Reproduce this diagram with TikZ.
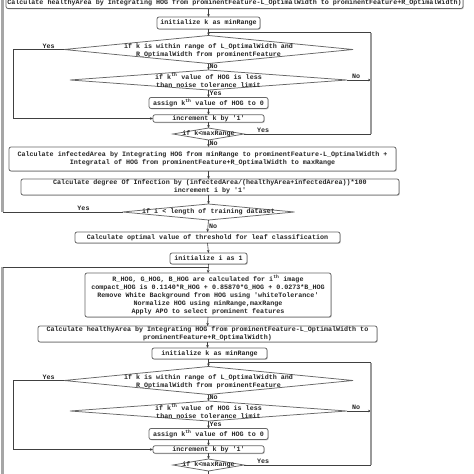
\documentclass[tikz,border=0pt]{standalone}
\usepackage{fontspec}
\setmonofont{Liberation Mono}
\usetikzlibrary{shapes.geometric,arrows.meta,shadows}
\newcommand\dtxt[2][-1.6pt]{\raisebox{#1}[0pt][0pt]{\makebox[0pt]{\fontsize{6.7}{7.6}\selectfont\begin{tabular}{@{}c@{}}#2\end{tabular}}}}
\begin{document}
\begin{tikzpicture}[x=1pt,y=-1pt,
 every node/.style={font=\ttfamily\bfseries\fontsize{6.7}{8.2}\selectfont, text=black!85},
 box/.style={draw=black!60, line width=0.75pt, rounded corners=2pt, fill=white, inner sep=0pt, outer sep=0pt, align=center,
   drop shadow={shadow xshift=0.8pt, shadow yshift=-0.8pt, fill=black!25, opacity=0.8}},
 dia/.style={shape=diamond, draw=black!60, line width=0.75pt, fill=white, inner sep=0pt, outer sep=0pt},
 arr/.style={draw=black!75, line width=0.6pt, -{Stealth[length=3pt,width=2.6pt]}},
 ln/.style={draw=black!75, line width=0.6pt},
 rline/.style={draw=black!40, line width=1.3pt},
 gline/.style={draw=black!35, line width=2.6pt},
 lbl/.style={inner sep=0.8pt}]
\useasboundingbox (0,0) rectangle (474,474);
\fill[white] (0,0) rectangle (474,474);
\clip (0,0) rectangle (474,474);

\coordinate (LA) at (13,0);
\coordinate (RA) at (371,0);
\coordinate (LG) at (2.5,0);
\coordinate (J1) at (208.5,32.5);
\coordinate (J2) at (208.5,267);
\coordinate (J3) at (208.5,362.5);
\coordinate (TopE) at (2.5,-8);
\coordinate (BotE) at (2.5,482);
\coordinate (BotM) at (208.5,482);

% ---- first part
\node[box, minimum width=457pt, minimum height=12pt] (T0) at (234.5,2.5) {Calculate healthyArea by Integrating HOG from prominentFeature-L\_OptimalWidth to prominentFeature+R\_OptimalWidth)};
\node[box, minimum width=103pt, minimum height=12pt] (K1) at (208.5,23) {initialize k as minRange};
\node[dia, minimum width=289pt, minimum height=28pt] (D1) at (208.5,49.5) {\dtxt[-3.2pt]{if k is within range of L\_OptimalWidth and\\R\_OptimalWidth from prominentFeature}};
\node[dia, minimum width=277pt, minimum height=20pt] (D2) at (208.5,80) {\dtxt[-3.4pt]{if k\textsuperscript{th} value of HOG is less\\than noise tolerance limit}};
\node[box, minimum width=119pt, minimum height=11pt] (A1) at (208.5,103) {assign k\textsuperscript{th} value of HOG to 0};
\node[box, minimum width=111pt, minimum height=7.5pt] (I1) at (208.5,118.5) {increment k by '1'};
\node[dia, minimum width=71pt, minimum height=12pt] (D3) at (208.5,134) {\dtxt[-2pt]{if k<maxRange}};
\node[box, minimum width=387pt, minimum height=24pt] (INF) at (202.5,159) {Calculate infectedArea by Integrating HOG from minRange to prominentFeature-L\_OptimalWidth +\\Integratal of HOG from prominentFeature+R\_OptimalWidth to maxRange};
\node[box, minimum width=378pt, minimum height=16pt] (DEG) at (210,187) {Calculate degree Of Infection by (infectedArea/(healthyArea+infectedArea))*100\\increment i by '1'};
\node[dia, minimum width=172pt, minimum height=16pt] (D4) at (208.5,212) {\dtxt[-2pt]{if i < length of training dataset}};
\node[box, minimum width=265pt, minimum height=11pt] (OPT) at (207.5,237.5) {Calculate optimal value of threshold for leaf classification};
\node[box, minimum width=77pt, minimum height=11pt] (INI) at (208.5,258.5) {initialize i as 1};
\node[box, minimum width=246pt, minimum height=44pt] (BIG) at (208,295) {R\_HOG, G\_HOG, B\_HOG are calculated for i\textsuperscript{th} image\\compact\_HOG is 0.1140*R\_HOG + 0.85870*G\_HOG + 0.0273*B\_HOG\\Remove White Background from HOG using 'whiteTolerance'\\Normalize HOG using minRange,maxRange\\Apply APO to select prominent features};
\node[box, minimum width=339pt, minimum height=16pt] (H2) at (207.5,334) {Calculate healthyArea by Integrating HOG from prominentFeature-L\_OptimalWidth to\\prominentFeature+R\_OptimalWidth)};
\node[box, minimum width=115pt, minimum height=11pt] (K2) at (209.5,353.5) {initialize k as minRange};
\node[dia, minimum width=289pt, minimum height=28pt] (D1b) at (208.5,380.5) {\dtxt[-3.2pt]{if k is within range of L\_OptimalWidth and\\R\_OptimalWidth from prominentFeature}};
\node[dia, minimum width=277pt, minimum height=20pt] (D2b) at (208.5,411) {\dtxt[-3.4pt]{if k\textsuperscript{th} value of HOG is less\\than noise tolerance limit}};
\node[box, minimum width=119pt, minimum height=11pt] (A1b) at (208.5,434) {assign k\textsuperscript{th} value of HOG to 0};
\node[box, minimum width=111pt, minimum height=7.5pt] (I1b) at (208.5,449.5) {increment k by '1'};
\node[dia, minimum width=71pt, minimum height=12pt] (D3b) at (208.5,465) {\dtxt[-2pt]{if k<maxRange}};

% ---- connectors, first loop
\draw[arr] (K1.north |- T0.south) -- (K1.north);
\draw[arr] (K1.south) -- (D1.north);
\draw[arr] (D1.west) -- node[lbl,above,pos=0.3]{Yes} (D1.west -| LA) |- (I1.west);
\draw[arr] (D1.south) -- node[lbl,right]{No} (D2.north);
\draw[arr] (D2.east) -- node[lbl,above,pos=0.38]{No} (D2.east -| RA);
\draw[arr] (D2.south) -- node[lbl,right]{Yes} (A1.north);
\draw[arr] (A1.south) -- (I1.north);
\draw[arr] (I1.south) -- (D3.north);
\draw[ln] (D3.east) -- node[lbl,above,pos=0.15]{Yes} (D3.east -| RA);
\draw[rline] (D3.east -| RA) -- (RA |- J1);
\draw[ln] (RA |- J1) -- (J1);
\draw[arr] (D3.south) -- node[lbl,right]{No} (D3.south |- INF.north);
\draw[arr] (INF.south -| K1) -- (DEG.north -| K1);
\draw[arr] (DEG.south -| K1) -- (D4.north);
\draw[ln] (D4.west) -- node[lbl,above,pos=0.325]{Yes} (D4.west -| LG);
\draw[gline] (D4.west -| LG) -- (TopE);
\draw[arr] (D4.south) -- node[lbl,right]{No} (OPT.north);
\draw[arr] (OPT.south) -- (INI.north);
\draw[arr] (INI.south) -- (BIG.north);
\draw[gline] (BotE) -- (LG |- J2);
\draw[ln] (LG |- J2) -- (J2);
\draw[arr] (BIG.south) -- (H2.north);
\draw[arr] (H2.south) -- (K2.north -| H2.south);
\draw[arr] (K2.south -| D1b.north) -- (D1b.north);

% ---- second loop
\draw[arr] (D1b.west) -- node[lbl,above,pos=0.3]{Yes} (D1b.west -| LA) |- (I1b.west);
\draw[arr] (D1b.south) -- node[lbl,right]{No} (D2b.north);
\draw[arr] (D2b.east) -- node[lbl,above,pos=0.38]{No} (D2b.east -| RA);
\draw[arr] (D2b.south) -- node[lbl,right]{Yes} (A1b.north);
\draw[arr] (A1b.south) -- (I1b.north);
\draw[arr] (I1b.south) -- (D3b.north);
\draw[ln] (D3b.east) -- node[lbl,above,pos=0.15]{Yes} (D3b.east -| RA);
\draw[rline] (D3b.east -| RA) -- (RA |- J3);
\draw[ln] (RA |- J3) -- (J3);
\draw[ln] (D3b.south) -- (BotM);
\end{tikzpicture}
\end{document}
